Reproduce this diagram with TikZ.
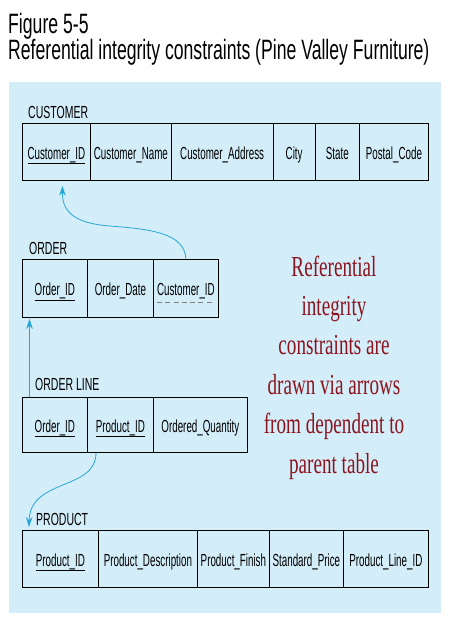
\documentclass[tikz,border=0pt]{standalone}
\usepackage{fontspec}
\usetikzlibrary{arrows.meta}
\newfontfamily\titlefont[FakeStretch=0.63]{Liberation Sans}
\newfontfamily\tabfont[FakeStretch=0.56]{Liberation Sans}
\newfontfamily\labfont[FakeStretch=0.6]{Liberation Sans}
\newfontfamily\notefont[FakeStretch=0.66]{Liberation Serif}
\definecolor{bgblue}{RGB}{211,237,249}
\definecolor{fkblue}{RGB}{38,168,214}
\definecolor{notered}{RGB}{140,20,30}
\newcommand\keyul[1]{\setbox0\hbox{#1}\leavevmode\rlap{\vrule height -4pt depth 4.9pt width \wd0}\box0}
\newcommand\fkul[1]{\setbox0\hbox{#1}\leavevmode\rlap{\hbox to \wd0{\color{gray}\xleaders\hbox{\vrule height -6.5pt depth 7.3pt width 5pt\kern 3pt}\hfill}}\box0}
\tikzset{
  cell/.style={draw=black, line width=0.8pt, anchor=north west, inner sep=0pt,
    text height=15pt, text depth=0pt,
    font=\tabfont\fontsize{17.5}{20}\selectfont},
  tcust/.style={cell, minimum height=57pt},
  tord/.style={cell, minimum height=58pt},
  tline/.style={cell, minimum height=55pt},
  tprod/.style={cell, minimum height=57pt},
  tlabel/.style={anchor=base west, inner sep=0pt, font=\labfont\fontsize{17.5}{20}\selectfont},
  fk/.style={draw=fkblue, line width=0.8pt, -{Stealth[length=10pt,width=6.5pt]}}
}
\begin{document}
\begin{tikzpicture}[x=1pt, y=-1pt]
\useasboundingbox (0,0) rectangle (457,630);
\fill[bgblue] (9,82) rectangle (441,613);

% titles
\node[anchor=base west, inner sep=0pt, font=\titlefont\fontsize{28}{32}\selectfont] (t1) at (8,33) {Figure 5-5};
\node[anchor=base west, inner sep=0pt, font=\titlefont\fontsize{28}{32}\selectfont] (t2) at (8,59) {Referential integrity constraints (Pine Valley Furniture)};

% CUSTOMER
\node[tlabel] (lcust) at (28,118) {CUSTOMER};
\node[tcust, minimum width=68pt] (c1) at (22,123) {\keyul{Customer\_ID}};
\node[tcust, minimum width=81pt] (c2) at (90,123) {Customer\_Name};
\node[tcust, minimum width=101.5pt] (c3) at (171,123) {Customer\_Address};
\node[tcust, minimum width=42.5pt] (c4) at (272.5,123) {City};
\node[tcust, minimum width=44pt] (c5) at (315,123) {State};
\node[tcust, minimum width=69pt] (c6) at (359,123) {Postal\_Code};

% ORDER
\node[tlabel] (lord) at (29,254) {ORDER};
\node[tord, minimum width=65pt] (o1) at (22,259) {\keyul{Order\_ID}};
\node[tord, minimum width=66pt] (o2) at (87,259) {Order\_Date};
\node[tord, minimum width=65pt] (o3) at (153,259) {\fkul{Customer\_ID}};

% ORDER LINE
\node[tlabel] (lline) at (35,390) {ORDER LINE};
\node[tline, minimum width=65pt] (l1) at (22,397) {\keyul{Order\_ID}};
\node[tline, minimum width=66pt] (l2) at (87,397) {\keyul{Product\_ID}};
\node[tline, minimum width=94pt] (l3) at (153,397) {Ordered\_Quantity};

% PRODUCT
\node[tlabel] (lprod) at (36,525) {PRODUCT};
\node[tprod, minimum width=76pt] (p1) at (22,530) {\keyul{Product\_ID}};
\node[tprod, minimum width=99pt] (p2) at (98,530) {Product\_Description};
\node[tprod, minimum width=72pt] (p3) at (197,530) {Product\_Finish};
\node[tprod, minimum width=74pt] (p4) at (269,530) {Standard\_Price};
\node[tprod, minimum width=85pt] (p5) at (343,530) {Product\_Line\_ID};

% note
\node[anchor=base, inner sep=0pt, align=center, text=notered,
  font=\notefont\fontsize{29}{39.4}\selectfont] (note) at (334,473)
  {Referential\\integrity\\constraints are\\drawn via arrows\\from dependent to\\parent table};

% connectors
\coordinate (m1) at (110,226);
\coordinate (ptip) at (29,527);
\draw[fk, shorten >=5pt] (o3.north) .. controls +(-1,-26) and +(40,3) .. (m1)
  .. controls +(-40,-3) and +(0,28) .. ([xshift=6pt]c1.south);
\draw[fk, shorten >=1pt] ([xshift=7.5pt]l1.north west) -- ([xshift=7.5pt]o1.south west);
\draw[fk] ([xshift=9pt]l2.south west) .. controls +(0,38) and +(1,-49) .. (ptip);
\end{tikzpicture}
\end{document}
